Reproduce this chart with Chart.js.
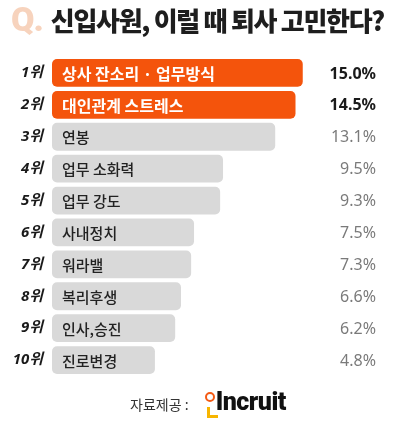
<!DOCTYPE html>
<html><head><meta charset="utf-8">
<script src="https://cdn.jsdelivr.net/npm/chart.js@4.4.1/dist/chart.umd.min.js"></script>
<style>
html,body{margin:0;padding:0;background:#fff;width:395px;height:427px;overflow:hidden;font-family:"Noto Sans CJK KR","Noto Sans",sans-serif;}
#wrap{position:absolute;left:0;top:0;width:395px;height:427px;}
#title{position:absolute;left:11px;top:-1px;white-space:nowrap;font-weight:900;font-size:26px;letter-spacing:-1.3px;color:#1e1e1e;}
#title .q{color:#f7d3bd;font-family:"Roboto","Noto Sans",sans-serif;font-size:34px;letter-spacing:-1px;margin-right:8px;}
#foot{position:absolute;left:130px;top:387px;white-space:nowrap;font-size:14px;color:#333;}
#foot .logo{font-family:"Roboto","Noto Sans",sans-serif;font-weight:900;font-size:25px;color:#111;letter-spacing:-0.5px;position:relative;margin-left:24px;}
#foot .dot{position:absolute;left:-11px;top:5px;width:6px;height:6px;border:2.5px solid #f45a14;border-radius:50%;}
#foot .corner{position:absolute;left:-9px;top:20px;width:8px;height:8px;border-left:3px solid #f7b500;border-bottom:3px solid #f7b500;}
</style></head>
<body>
<div id="wrap"><canvas id="c"></canvas></div>
<div id="title"><span class="q">Q.</span>신입사원, 이럴 때 퇴사 고민한다?</div>
<div id="foot">자료제공 : <span class="logo"><span class="dot"></span><span class="corner"></span>Incruit</span></div>
<script>
const ranks = ["1위","2위","3위","4위","5위","6위","7위","8위","9위","10위"];
const categories = ["상사 잔소리 · 업무방식","대인관계 스트레스","연봉","업무 소화력","업무 강도","사내정치","워라밸","복리후생","인사,승진","진로변경"];
const values = [15.0,14.5,13.1,9.5,9.3,7.5,7.3,6.6,6.2,4.8];
const highlightCount = 2;

const ORANGE = "#f4540c", GRAY = "#d9d9d9";
const colors = values.map((v,i)=> i<highlightCount ? ORANGE : GRAY);

const labelPlugin = {
  id:'labels',
  afterDatasetsDraw(chart){
    const ctx = chart.ctx;
    const meta = chart.getDatasetMeta(0);
    meta.data.forEach((bar,i)=>{
      const hi = i<highlightCount;
      ctx.save();
      ctx.textBaseline='middle';
      ctx.textAlign='left';
      ctx.fillStyle = hi ? '#ffffff' : '#222222';
      ctx.font = (hi ? '700 16px' : '500 15px') + ' "Noto Sans CJK KR"';
      const left = Math.min(bar.x, bar.base);
      ctx.fillText(categories[i], left+10, bar.y+1);
      ctx.textAlign='right';
      ctx.fillStyle = hi ? '#1a1a1a' : '#7a7a7a';
      ctx.font = (hi ? '700 ' : '400 ') + '16px "Noto Sans","Noto Sans CJK KR"';
      ctx.fillText(values[i].toFixed(1)+'%', 376, bar.y+1);
      ctx.restore();
    });
  }
};

new Chart(document.getElementById('c'),{
  type:'bar',
  data:{labels:ranks,datasets:[{data:values,backgroundColor:colors,borderRadius:5,borderSkipped:false,base:-2.3,barPercentage:0.87,categoryPercentage:1.0}]},
  options:{
    indexAxis:'y',responsive:true,maintainAspectRatio:false,animation:false,
    layout:{padding:{top:57,bottom:51,left:0,right:85}},
    plugins:{legend:{display:false},tooltip:{enabled:false}},
    scales:{
      x:{display:false,min:-2.3,max:15.5},
      y:{
        afterFit(s){s.width=52;},
        grid:{display:false,drawTicks:false},border:{display:false},
        ticks:{padding:9,color:'#1a1a1a',font:{family:'"Noto Sans","Noto Sans CJK KR"',size:15,weight:'700',style:'italic'}}
      }
    }
  },
  plugins:[labelPlugin]
});
</script>
</body></html>
